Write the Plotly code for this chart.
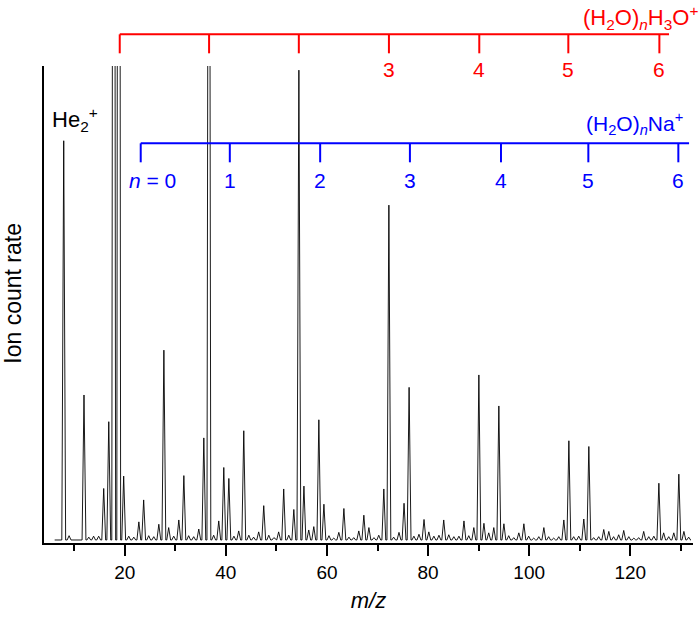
import plotly.graph_objects as go

# ---------------- data ----------------
# peak positions (m/z as drawn) and heights (arb. units; 100 = top of frame)
peak_mz = [7.94, 9.0, 11.95, 12.9, 13.85, 14.85, 15.85, 16.85, 17.83, 18.82,
           19.8, 20.8, 21.8, 22.8, 23.75, 24.75, 25.75, 26.75, 27.75, 28.7,
           29.7, 30.7, 31.7, 32.65, 33.65, 34.65, 35.65, 36.65, 37.6, 38.6,
           39.6, 40.6, 41.6, 42.55, 43.55, 44.55, 45.5, 46.5, 47.5, 48.5,
           49.5, 50.45, 51.45, 52.45, 53.45, 54.45, 55.45, 56.4, 57.4, 58.4,
           59.4, 60.4, 61.35, 62.35, 63.35, 64.35, 65.3, 66.3, 67.3, 68.3,
           69.3, 70.25, 71.25, 72.25, 73.2, 74.25, 75.25, 76.25, 77.2, 78.2,
           79.2, 80.15, 81.15, 82.15, 83.1, 84.1, 85.1, 86.1, 87.1, 88.05,
           89.05, 90.05, 91.05, 92.0, 93.0, 94.0, 95.0, 95.95, 96.95, 97.95,
           98.95, 99.9, 100.9, 101.9, 102.9, 103.85, 104.85, 105.85, 106.85, 107.85,
           108.8, 109.8, 110.8, 111.8, 112.75, 113.75, 114.75, 115.75, 116.7, 117.7,
           118.7, 119.7, 120.7, 121.65, 122.65, 123.65, 124.65, 125.65, 126.6, 127.6,
           128.6, 129.6, 130.6, 131.55]
peak_h = [83.7, 0.9, 30.4, 0.6, 0.8, 0.8, 10.8, 24.8, 350.0, 400.0,
          13.4, 0.8, 0.6, 3.8, 8.4, 0.9, 0.7, 3.3, 39.8, 2.6,
          0.8, 4.2, 13.5, 0.9, 0.7, 2.3, 21.4, 250.0, 1.0, 4.0,
          15.2, 12.9, 0.8, 1.9, 22.9, 1.0, 0.6, 1.7, 7.2, 1.0,
          0.5, 1.7, 10.7, 1.0, 6.4, 98.5, 11.3, 2.1, 2.8, 25.2,
          7.5, 0.9, 0.4, 1.6, 6.6, 0.6, 0.5, 1.9, 5.2, 2.6,
          0.5, 1.0, 10.7, 70.2, 0.6, 1.6, 7.7, 32.0, 0.8, 1.2,
          4.3, 1.7, 0.8, 1.0, 4.2, 1.1, 0.7, 0.8, 4.0, 0.9,
          2.6, 34.6, 3.5, 1.5, 2.6, 28.1, 3.4, 0.9, 0.5, 1.5,
          3.4, 0.8, 0.4, 0.7, 2.6, 0.7, 0.4, 0.7, 4.2, 20.8,
          0.7, 0.8, 4.4, 19.6, 0.5, 0.7, 2.2, 1.8, 0.7, 1.1,
          2.0, 0.7, 0.4, 0.5, 1.8, 0.7, 0.8, 11.9, 1.5, 0.7,
          1.5, 13.8, 1.8, 0.6]
spectrum_start, spectrum_end = 6.15, 131.8

# cluster series markers (m/z of each bracket tick, n = 0..6)
h3o_ticks = [19.02, 36.69, 54.44, 72.26, 90.13, 107.74, 125.75]
h3o_labels = ["", "", "", "3", "4", "5", "6"]
h3o_line_end = 127.66
na_ticks = [23.17, 40.79, 58.66, 76.41, 94.42, 111.70, 129.50]
na_labels = ["<i>n</i> = 0", "1", "2", "3", "4", "5", "6"]
na_line_end = 131.62

x_range = [4.04, 132.4]
y_range = [-0.63, 99.37]
x_tick_vals = [20, 40, 60, 80, 100, 120]
x_minor_vals = [10, 30, 50, 70, 90, 110, 130]

FONT = "Liberation Sans, Arial, sans-serif"
RED = "#ff0000"
BLUE = "#0000ff"

# ---------------- spectrum trace ----------------
hw = 0.38  # half width of each drawn peak in m/z
xs, ys = [spectrum_start], [0.0]
for m, h in zip(peak_mz, peak_h):
    xs += [m - hw, m, m + hw]
    ys += [0.0, h, 0.0]
xs.append(spectrum_end)
ys.append(0.0)

fig = go.Figure()
fig.add_trace(go.Scatter(x=xs, y=ys, mode="lines",
                         line=dict(color="black", width=0.9),
                         hoverinfo="skip", showlegend=False))

shapes = []
annotations = []

def bracket(ticks, end, y_line, y_tick, color):
    shapes.append(dict(type="line", xref="x", yref="paper",
                       x0=ticks[0], x1=end, y0=y_line, y1=y_line,
                       line=dict(color=color, width=2)))
    for t in ticks:
        shapes.append(dict(type="line", xref="x", yref="paper",
                           x0=t, x1=t, y0=y_line, y1=y_tick,
                           line=dict(color=color, width=2)))

bracket(h3o_ticks, h3o_line_end, 1.0664, 1.0266, RED)
bracket(na_ticks, na_line_end, 0.8379, 0.7981, BLUE)

for t, lab in zip(h3o_ticks, h3o_labels):
    if lab:
        annotations.append(dict(x=t, y=0.9937, xref="x", yref="paper", text=lab,
                                showarrow=False, xanchor="center", yanchor="middle",
                                font=dict(family=FONT, size=21, color=RED)))
for i, (t, lab) in enumerate(zip(na_ticks, na_labels)):
    annotations.append(dict(x=t, y=0.761, xref="x", yref="paper", text=lab,
                            showarrow=False, xanchor="center", yanchor="middle",
                            xshift=12 if i == 0 else 0,
                            font=dict(family=FONT, size=21, color=BLUE)))

annotations.append(dict(x=1.0105, y=1.1017, xref="paper", yref="paper",
                        text="(H<sub>2</sub>O)<sub><i>n</i></sub>H<sub>3</sub>O<sup>+</sup>",
                        showarrow=False, xanchor="right", yanchor="middle",
                        font=dict(family=FONT, size=22, color=RED)))
annotations.append(dict(x=0.9875, y=0.8795, xref="paper", yref="paper",
                        text="(H<sub>2</sub>O)<sub><i>n</i></sub>Na<sup>+</sup>",
                        showarrow=False, xanchor="right", yanchor="middle",
                        font=dict(family=FONT, size=21, color=BLUE)))
annotations.append(dict(x=5.2, y=0.8868, xref="x", yref="paper",
                        text="He<sub>2</sub><sup>+</sup>",
                        showarrow=False, xanchor="left", yanchor="middle",
                        font=dict(family=FONT, size=22, color="black")))
# y-axis title
annotations.append(dict(x=-0.049, y=0.523, xref="paper", yref="paper",
                        text="Ion count rate", textangle=-90,
                        showarrow=False, xanchor="center", yanchor="middle",
                        font=dict(family=FONT, size=23, color="black")))

fig.update_layout(
    width=700, height=618,
    margin=dict(l=44, r=7, t=66, b=75),
    paper_bgcolor="white", plot_bgcolor="white",
    font=dict(family=FONT, color="black"),
    shapes=shapes, annotations=annotations,
    xaxis=dict(range=x_range, showgrid=False, zeroline=False,
               showline=True, linecolor="black", linewidth=1.5,
               ticks="outside", ticklen=11, tickwidth=1.5, tickcolor="black",
               tickvals=x_tick_vals, tickfont=dict(size=19, family=FONT),
               minor=dict(tickvals=x_minor_vals, ticks="outside",
                          ticklen=6, tickwidth=1.5, tickcolor="black", showgrid=False),
               title=dict(text="<i>m/z</i>", font=dict(size=22, family=FONT), standoff=11)),
    yaxis=dict(range=y_range, showgrid=False, zeroline=False,
               showline=True, linecolor="black", linewidth=1.5,
               ticks="", showticklabels=False),
)

fig.write_html("out.html")
